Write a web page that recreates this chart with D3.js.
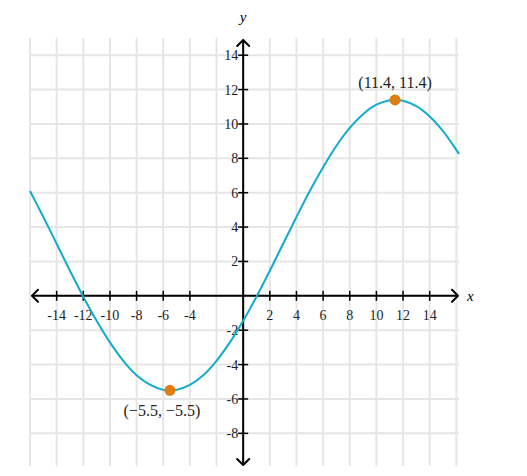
<!DOCTYPE html>
<html><head><meta charset="utf-8">
<script src="https://cdn.jsdelivr.net/npm/d3@7"></script>
<style>body{margin:0;background:#fff}svg text{font-family:"Liberation Serif","DejaVu Serif",serif;}</style>
</head><body>
<svg id="c" width="527" height="476"></svg>
<script>
const curveX = [-16,-15,-14,-13,-12,-11,-10,-9,-8,-7,-6,-5.5,-5,-4,-3,-2,-1,0,1,2,3,4,5,6,7,8,9,10,11,11.4,12,13,14,15,16,16.2];
const curveY = [6.10,4.59,3.03,1.46,-0.05,-1.45,-2.71,-3.78,-4.62,-5.17,-5.47,-5.5,-5.47,-5.18,-4.62,-3.78,-2.71,-1.45,-0.05,1.46,3.03,4.59,6.10,7.48,8.73,9.77,10.57,11.12,11.38,11.4,11.35,11.03,10.43,9.58,8.49,8.25];
const pointsX = [-5.5, 11.4];
const pointsY = [-5.5, 11.4];
const pointLabels = ["(\u22125.5, \u22125.5)", "(11.4, 11.4)"];
const xTicks = [-14,-12,-10,-8,-6,-4,2,4,6,8,10,12,14];
const yTicks = [-8,-6,-4,-2,2,4,6,8,10,12,14];
const gridX = [-16,-14,-12,-10,-8,-6,-4,-2,0,2,4,6,8,10,12,14,16];
const gridY = [-8,-6,-4,-2,0,2,4,6,8,10,12,14];

const svg = d3.select("#c");
const x = d3.scaleLinear().domain([-16,16.2]).range([30,459]);
const y = d3.scaleLinear().domain([-9.9,15]).range([466,38]);
const g = svg.append("g");
g.selectAll(".gx").data(gridX).join("line").attr("x1",d=>x(d)).attr("x2",d=>x(d)).attr("y1",38).attr("y2",466).attr("stroke","#e6e6e6").attr("stroke-width",2);
g.selectAll(".gy").data(gridY).join("line").attr("y1",d=>y(d)).attr("y2",d=>y(d)).attr("x1",30).attr("x2",459).attr("stroke","#e6e6e6").attr("stroke-width",2);

// axes
const x0 = x(0), y0 = y(0);
svg.append("line").attr("x1",32).attr("x2",458).attr("y1",y0).attr("y2",y0).attr("stroke","#000").attr("stroke-width",2);
svg.append("line").attr("x1",x0).attr("x2",x0).attr("y1",40).attr("y2",465).attr("stroke","#000").attr("stroke-width",2);
const arrow = (pts)=>svg.append("path").attr("d",d3.line()(pts)).attr("fill","none").attr("stroke","#000").attr("stroke-width",2).attr("stroke-linecap","round").attr("stroke-linejoin","round");
arrow([[38,y0-6],[32,y0],[38,y0+6]]);
arrow([[452,y0-6],[458,y0],[452,y0+6]]);
arrow([[x0-6,46],[x0,40],[x0+6,46]]);
arrow([[x0-6,459],[x0,465],[x0+6,459]]);
// ticks
svg.selectAll(".tx").data(xTicks).join("line").attr("x1",d=>x(d)).attr("x2",d=>x(d)).attr("y1",y0-5).attr("y2",y0+5).attr("stroke","#000").attr("stroke-width",1.5);
svg.selectAll(".ty").data(yTicks).join("line").attr("y1",d=>y(d)).attr("y2",d=>y(d)).attr("x1",x0-5).attr("x2",x0+5).attr("stroke","#000").attr("stroke-width",1.5);
svg.selectAll(".lx").data(xTicks).join("text").attr("x",d=>x(d)).attr("y",y0+24).attr("text-anchor","middle").attr("font-size",14).attr("fill","#222").text(d=>d);
svg.selectAll(".ly").data(yTicks).join("text").attr("x",x0-5).attr("y",d=>y(d)+5).attr("text-anchor","end").attr("font-size",14).attr("fill","#222").text(d=>d);
svg.append("text").attr("x",x0).attr("y",22).attr("text-anchor","middle").attr("font-size",15).attr("font-style","italic").text("y");
svg.append("text").attr("x",467).attr("y",y0+5).attr("font-size",15).attr("font-style","italic").text("x");

// curve
svg.append("path").datum(curveX.map((d,i)=>[d,curveY[i]]))
  .attr("d",d3.line().x(d=>x(d[0])).y(d=>y(d[1])).curve(d3.curveCatmullRom))
  .attr("fill","none").attr("stroke","#11accd").attr("stroke-width",2);
svg.selectAll(".pt").data(pointsX).join("circle").attr("cx",d=>x(d)).attr("cy",(d,i)=>y(pointsY[i])).attr("r",5.5).attr("fill","#e07d10");
svg.append("text").attr("x",x(pointsX[0])-8).attr("y",y(pointsY[0])+26).attr("text-anchor","middle").attr("font-size",16).attr("fill","#222").text(pointLabels[0]);
svg.append("text").attr("x",x(pointsX[1])).attr("y",y(pointsY[1])-12).attr("text-anchor","middle").attr("font-size",16).attr("fill","#222").text(pointLabels[1]);
</script>
</body></html>
